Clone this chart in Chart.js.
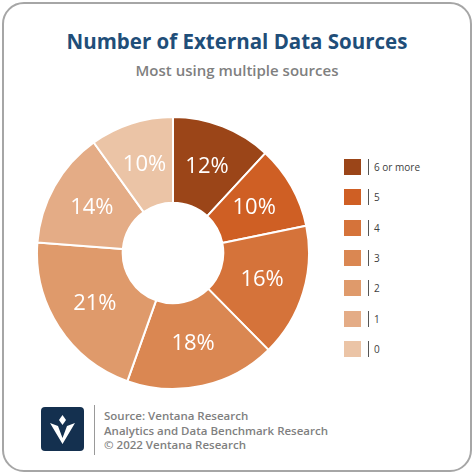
<!DOCTYPE html>
<html>
<head>
<meta charset="utf-8">
<script src="https://cdn.jsdelivr.net/npm/chart.js@4"></script>
<style>
  body { margin: 0; background: #fff; font-family: "Open Sans", sans-serif; }
  #card { position: absolute; left: 2px; top: 2px; width: 466px; height: 466px;
    border: 2px solid #a6a6a6; border-radius: 22px; background: #fff; }
  #title { position: absolute; top: 27px; width: 474px; text-align: center;
    font-size: 20.5px; font-weight: bold; color: #1f4e79; }
  #subtitle { position: absolute; top: 60px; width: 474px; text-align: center;
    font-size: 15px; font-weight: 600; color: #7f7f7f; }
  #wrap { position: absolute; left: 34px; top: 114px; width: 278px; height: 278px; }
  #legend { position: absolute; left: 344px; top: 152px; }
  .item { height: 30.3px; display: flex; align-items: center; font-size: 10px; color: #404040; }
  .sw { width: 17px; height: 16px; margin-right: 7px; }
  .bar { width: 1px; height: 16px; background: #555; margin-right: 5px; }
  #logo { position: absolute; left: 41px; top: 407px; width: 43px; height: 44px;
    background: #14304f; border-radius: 4px; }
  #sep { position: absolute; left: 94px; top: 405px; width: 1px; height: 50px; background: #999; }
  #source { position: absolute; left: 104px; top: 409px; font-size: 11.5px; font-weight: 600;
    color: #7f7f7f; line-height: 14.5px; }
</style>
</head>
<body>
<div id="card"></div>
<div id="title">Number of External Data Sources</div>
<div id="subtitle">Most using multiple sources</div>
<div id="wrap"><canvas id="chart"></canvas></div>
<div id="legend"></div>
<div id="logo"><svg width="43" height="44" viewBox="0 0 43 44">
  <path d="M9 16 L21.5 37 L34 16 L26 19 L21.5 31 L17 19 Z" fill="#fff"/>
  <path d="M21.5 8 L25 13 L21.5 18 L18 13 Z" fill="#fff"/></svg></div>
<div id="sep"></div>
<div id="source">Source: Ventana Research<br>Analytics and Data Benchmark Research<br>© 2022 Ventana Research</div>
<script>
  var categories = ['6 or more', '5', '4', '3', '2', '1', '0'];
  var shares = [12, 10, 16, 18, 21, 14, 10];
  var colors = ['#9b4518', '#cf5f24', '#d5733a', '#da8752', '#df9a6b', '#e4ac86', '#ebc4a6'];

  var legend = document.getElementById('legend');
  categories.forEach(function(name, i){
    var row = document.createElement('div');
    row.className = 'item';
    row.innerHTML = '<div class="sw" style="background:' + colors[i] + '"></div><div class="bar"></div>' + name;
    legend.appendChild(row);
  });

  /*Dibuja etiquetas de porcentaje*/
  var labelPlugin = {
    id: 'sliceLabels',
    afterDatasetsDraw: function(chart){
      var ctx = chart.ctx, meta = chart.getDatasetMeta(0);
      ctx.save();
      ctx.fillStyle = '#fff';
      ctx.font = '22px "Open Sans", sans-serif';
      ctx.textAlign = 'center';
      ctx.textBaseline = 'middle';
      meta.data.forEach(function(arc, i){
        var p = arc.tooltipPosition();
        ctx.fillText(shares[i] + '%', p.x, p.y);
      });
      ctx.restore();
    }
  };

  new Chart(document.getElementById('chart'), {
    type: 'doughnut',
    data: { labels: categories, datasets: [{ data: shares, backgroundColor: colors,
      borderColor: '#fff', borderWidth: 2 }] },
    options: { responsive: true, maintainAspectRatio: false, animation: false, cutout: '37%',
      layout: { padding: 2 },
      plugins: { legend: { display: false }, tooltip: { enabled: false } } },
    plugins: [labelPlugin]
  });
</script>
</body>
</html>
